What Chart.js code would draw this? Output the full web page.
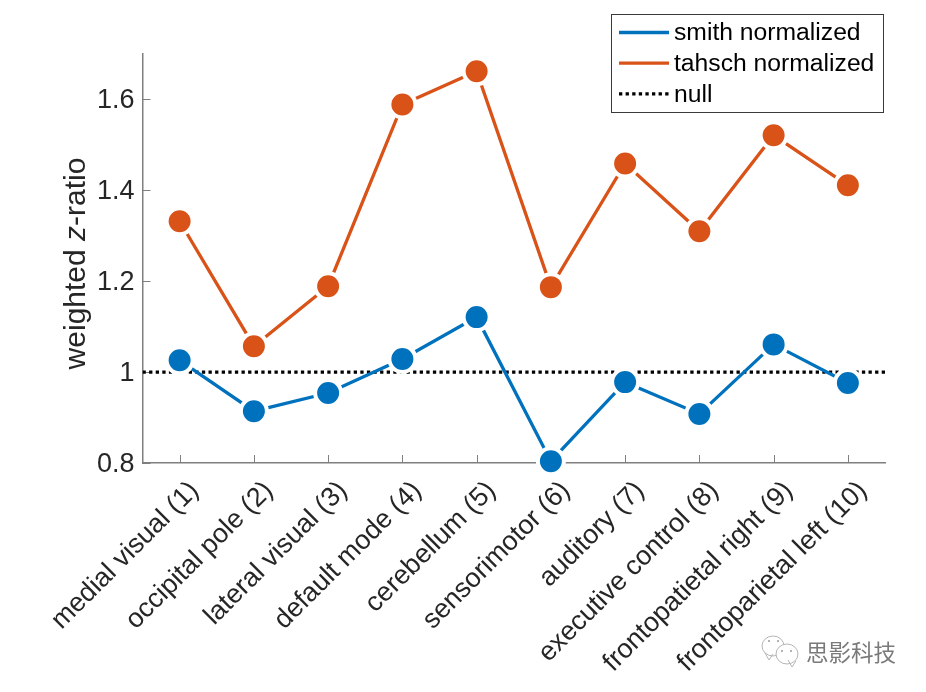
<!DOCTYPE html>
<html lang="en">
<head>
<meta charset="UTF-8">
<title>weighted z-ratio</title>
<style>
  body { margin: 0; background: #fff; }
  canvas { display: block; }
</style>
<script src="https://cdn.jsdelivr.net/npm/chart.js"></script>
</head>
<body>
<canvas id="myChart" width="926" height="692"></canvas>
<script>
var categories = ['medial visual (1)', 'occipital pole (2)', 'lateral visual (3)', 'default mode (4)', 'cerebellum (5)',
  'sensorimotor (6)', 'auditory (7)', 'executive control (8)', 'frontopatietal right (9)', 'frontoparietal left (10)'];
var positions = [1, 2, 3, 4, 5, 6, 7, 8, 9, 10];
var smith = [1.026, 0.914, 0.954, 1.029, 1.121, 0.804, 0.978, 0.908, 1.061, 0.976];
var tahsch = [1.332, 1.057, 1.189, 1.589, 1.662, 1.187, 1.459, 1.310, 1.521, 1.411];
var nullX = [0.5, 10.5];
var nullY = [1, 1];
var yTicks = [0.8, 1, 1.2, 1.4, 1.6];

var BLUE = '#0072BD';
var ORANGE = '#D95319';
var AXIS = '#7f7f7f';
var TEXT = '#262626';
var FONT = '"Liberation Sans", Arial, sans-serif';

function points(xs, ys) {
  return xs.map(function (x, i) { return { x: x, y: ys[i] }; });
}

// inward ticks, matlab style
var innerTicks = {
  id: 'innerTicks',
  beforeDatasetsDraw: function (chart) {
    var c = chart.ctx, a = chart.chartArea;
    c.save();
    c.strokeStyle = AXIS;
    c.lineWidth = 1;
    chart.scales.x.ticks.forEach(function (t) {
      var x = Math.round(chart.scales.x.getPixelForValue(t.value)) + 0.5;
      c.beginPath(); c.moveTo(x, a.bottom); c.lineTo(x, a.bottom - 8); c.stroke();
    });
    chart.scales.y.ticks.forEach(function (t) {
      var y = Math.round(chart.scales.y.getPixelForValue(t.value)) + 0.5;
      c.beginPath(); c.moveTo(a.left, y); c.lineTo(a.left + 8, y); c.stroke();
    });
    c.restore();
  }
};

// y title has an italic z so it goes in three runs
var yTitle = {
  id: 'yTitle',
  afterDraw: function (chart) {
    var c = chart.ctx;
    var runs = [['weighted ', '30px ' + FONT], ['z', 'italic 30px ' + FONT], ['-ratio', '30px ' + FONT]];
    c.save();
    c.fillStyle = TEXT;
    c.textBaseline = 'alphabetic';
    c.textAlign = 'left';
    var total = 0;
    runs.forEach(function (r) { c.font = r[1]; total += c.measureText(r[0]).width; });
    c.translate(85, 263.5);
    c.rotate(-Math.PI / 2);
    var x = -total / 2;
    runs.forEach(function (r) {
      c.font = r[1];
      c.fillText(r[0], x, 0);
      x += c.measureText(r[0]).width;
    });
    c.restore();
  }
};

var legendBox = {
  id: 'legendBox',
  afterDraw: function (chart) {
    var c = chart.ctx;
    c.save();
    c.fillStyle = '#fff';
    c.fillRect(611, 14, 272, 98);
    c.strokeStyle = '#3a3a3a';
    c.lineWidth = 1;
    c.strokeRect(611.5, 14.5, 272, 98);
    c.font = '24.7px ' + FONT;
    c.textBaseline = 'middle';
    c.textAlign = 'left';
    chart.data.datasets.forEach(function (d, i) {
      var y = 32.5 + i * 30.7;
      c.strokeStyle = d.borderColor;
      c.lineWidth = d.borderWidth;
      c.setLineDash(d.borderDash || []);
      c.beginPath(); c.moveTo(619, y); c.lineTo(669, y); c.stroke();
      c.fillStyle = '#000';
      c.fillText(d.label, 674, y + 1);
    });
    c.restore();
  }
};

function bubble(c, x, y, rx, ry, tailX, tailY) {
  c.beginPath();
  c.ellipse(x, y, rx, ry, 0, 0, Math.PI * 2);
  c.fill();
  c.stroke();
  c.beginPath();
  c.moveTo(tailX - 4, tailY - 3);
  c.lineTo(tailX, tailY + 4);
  c.lineTo(tailX + 4, tailY - 2);
  c.stroke();
}

var watermark = {
  id: 'watermark',
  afterDraw: function (chart) {
    var c = chart.ctx;
    c.save();
    c.strokeStyle = '#b5b5b5';
    c.fillStyle = '#fff';
    c.lineWidth = 1;
    bubble(c, 773, 646, 11, 10, 769, 656);
    bubble(c, 787, 654, 11, 10, 792, 663);
    c.fillStyle = '#9a9a9a';
    [[769, 641], [778, 641], [782, 651], [791, 651]].forEach(function (p) {
      c.beginPath(); c.arc(p[0], p[1], 1, 0, Math.PI * 2); c.fill();
    });
    c.fillStyle = '#7a7a7a';
    c.font = '22.5px "Noto Sans CJK SC"';
    c.textBaseline = 'middle';
    c.textAlign = 'left';
    c.fillText('思影科技', 806, 652);
    c.restore();
  }
};

new Chart(document.getElementById('myChart'), {
  type: 'line',
  data: {
    datasets: [
      { label: 'smith normalized', data: points(positions, smith), borderColor: BLUE, backgroundColor: BLUE, borderWidth: 3.3,
        pointRadius: 13, pointHoverRadius: 13, pointBackgroundColor: BLUE, pointBorderColor: '#fff', pointBorderWidth: 4, clip: false },
      { label: 'tahsch normalized', data: points(positions, tahsch), borderColor: ORANGE, backgroundColor: ORANGE, borderWidth: 3.3,
        pointRadius: 13, pointHoverRadius: 13, pointBackgroundColor: ORANGE, pointBorderColor: '#fff', pointBorderWidth: 4, clip: false },
      { label: 'null', data: points(nullX, nullY), borderColor: '#000', borderWidth: 3.4, borderDash: [3.3, 3.3], pointRadius: 0 }
    ]
  },
  options: {
    responsive: false,
    animation: false,
    layout: { padding: { top: 54, right: 41, left: 0, bottom: 0 } },
    plugins: { legend: { display: false }, tooltip: { enabled: false } },
    scales: {
      x: {
        type: 'linear', min: 0.5, max: 10.5,
        afterBuildTicks: function (s) { s.ticks = positions.map(function (v) { return { value: v }; }); },
        afterFit: function (s) { s.height = 229; },
        grid: { display: false, drawTicks: false },
        border: { display: true, color: AXIS, width: 1.5 },
        ticks: {
          autoSkip: false, minRotation: 45, maxRotation: 45, padding: 12, labelOffset: 15, color: TEXT,
          font: { family: FONT, size: 26.9 },
          callback: function (v) { return categories[v - 1]; }
        }
      },
      y: {
        min: 0.8, max: 1.7,
        afterBuildTicks: function (s) { s.ticks = yTicks.map(function (v) { return { value: v }; }); },
        afterFit: function (s) { s.width = 142.5; },
        grid: { display: false, drawTicks: false },
        border: { display: true, color: AXIS, width: 1.5 },
        ticks: {
          padding: 8, labelOffset: 1.5, color: TEXT,
          font: { family: FONT, size: 27 },
          callback: function (v) { return String(v); }
        }
      }
    }
  },
  plugins: [innerTicks, yTitle, legendBox, watermark]
});
</script>
</body>
</html>
